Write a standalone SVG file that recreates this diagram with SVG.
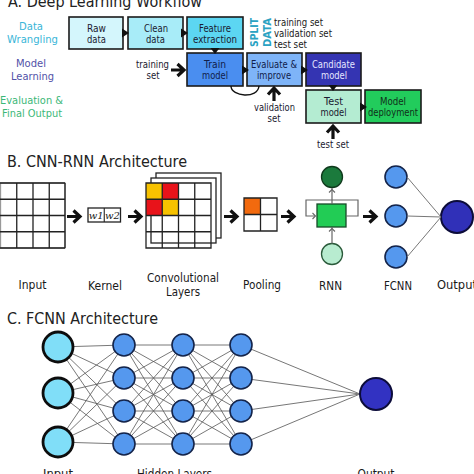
<svg xmlns="http://www.w3.org/2000/svg" xmlns:xlink="http://www.w3.org/1999/xlink" width="474" height="474" viewBox="0 0 474 474">
<style>
text{font-family:"DejaVu Sans","Liberation Sans",sans-serif;fill:#1a1a1a}
.t{font-size:16px;fill:#222}
.lab{font-size:11.5px;text-anchor:middle}
.row{font-size:10.8px;text-anchor:middle}
.bx{font-size:10.5px;text-anchor:middle;fill:#1a1a30}
.lg{font-size:10px}
.box{stroke:#1b1b1b;stroke-width:1.6}
.grid{fill:none;stroke:#222;stroke-width:1.3}
.cell{stroke:#222;stroke-width:1.3}
.thin{fill:none;stroke:#666;stroke-width:1.2}
.edge{stroke:#555;stroke-width:0.8}
.edgeB{stroke:#777;stroke-width:1}
.blue{fill:#5598ee;stroke:#14244a;stroke-width:1.6}
.tri{fill:#111}
</style>
<defs>
<path id="thk" d="M0,0 H12.5 M6.5,-6 L13,0 L6.5,6" fill="none" stroke="#111" stroke-width="3.2"/>
<path id="chev" d="M-3,3 L0,0 L3,3" fill="none" stroke="#666" stroke-width="1.1"/>
</defs>

<!-- Section A -->
<g id="titleA"><text class="t" x="8" y="7" textLength="194" lengthAdjust="spacingAndGlyphs">A. Deep Learning Workflow</text></g>
<g id="rowlabels">
<text class="row" x="31" y="30" style="fill:#3ab6d8" textLength="24" lengthAdjust="spacingAndGlyphs">Data</text>
<text class="row" x="32.5" y="42.5" style="fill:#3ab6d8" textLength="51" lengthAdjust="spacingAndGlyphs">Wrangling</text>
<text class="row" x="31" y="67" style="fill:#5252a8" textLength="30" lengthAdjust="spacingAndGlyphs">Model</text>
<text class="row" x="32.5" y="79.5" style="fill:#5252a8" textLength="43" lengthAdjust="spacingAndGlyphs">Learning</text>
<text class="row" x="31.5" y="104" style="fill:#3cb878" textLength="63" lengthAdjust="spacingAndGlyphs">Evaluation &amp;</text>
<text class="row" x="32" y="116.5" style="fill:#3cb878" textLength="60" lengthAdjust="spacingAndGlyphs">Final Output</text>
</g>

<g id="raw"><rect class="box" x="69" y="17" width="54" height="32" fill="#d4f6fc"/>
<text class="bx" x="96.5" y="32" textLength="19" lengthAdjust="spacingAndGlyphs">Raw</text><text class="bx" x="96.5" y="43" textLength="19" lengthAdjust="spacingAndGlyphs">data</text></g>
<g id="clean"><rect class="box" x="128" y="17" width="55" height="32" fill="#a8ecf8"/>
<text class="bx" x="156" y="32" textLength="24" lengthAdjust="spacingAndGlyphs">Clean</text><text class="bx" x="155.5" y="43" textLength="19" lengthAdjust="spacingAndGlyphs">data</text></g>
<g id="feature"><rect class="box" x="187" y="17" width="56" height="32" fill="#5cd6f2"/>
<text class="bx" x="215" y="32" textLength="32" lengthAdjust="spacingAndGlyphs">Feature</text><text class="bx" x="215" y="43" textLength="44" lengthAdjust="spacingAndGlyphs">extraction</text></g>
<g id="train"><rect class="box" x="187" y="53" width="56" height="33" fill="#4a8ef0"/>
<text class="bx" x="215" y="68" style="fill:#10204a" textLength="22" lengthAdjust="spacingAndGlyphs">Train</text><text class="bx" x="215" y="79" style="fill:#10204a" textLength="26" lengthAdjust="spacingAndGlyphs">model</text></g>
<g id="evaluate"><rect class="box" x="247" y="53" width="55" height="33" fill="#7eb4f8"/>
<text class="bx" x="274" y="68" style="fill:#10204a" textLength="46" lengthAdjust="spacingAndGlyphs">Evaluate &amp;</text><text class="bx" x="274" y="79" style="fill:#10204a" textLength="34" lengthAdjust="spacingAndGlyphs">improve</text></g>
<g id="candidate"><rect class="box" x="306" y="53" width="55" height="33" fill="#3434b2"/>
<text class="bx" x="333.5" y="68" style="fill:#e4e6ff" textLength="43" lengthAdjust="spacingAndGlyphs">Candidate</text><text class="bx" x="334" y="79" style="fill:#e4e6ff" textLength="26" lengthAdjust="spacingAndGlyphs">model</text></g>
<g id="test"><rect class="box" x="306" y="90" width="55" height="33" fill="#b4ecd2"/>
<text class="bx" x="333.5" y="105" textLength="19" lengthAdjust="spacingAndGlyphs">Test</text><text class="bx" x="333.5" y="116" textLength="26" lengthAdjust="spacingAndGlyphs">model</text></g>
<g id="deploy"><rect class="box" x="365" y="90" width="56" height="33" fill="#22cc5c"/>
<text class="bx" x="393" y="105" style="fill:#10301a" textLength="26" lengthAdjust="spacingAndGlyphs">Model</text><text class="bx" x="393" y="116" style="fill:#10301a" textLength="50" lengthAdjust="spacingAndGlyphs">deployment</text></g>

<g id="splitdata">
<text x="258" y="47" transform="rotate(-90 258 47)" style="font-size:11px;font-weight:bold;fill:#2aa2c2" textLength="29" lengthAdjust="spacingAndGlyphs">SPLIT</text>
<text x="271" y="47" transform="rotate(-90 271 47)" style="font-size:11px;font-weight:bold;fill:#2aa2c2" textLength="29" lengthAdjust="spacingAndGlyphs">DATA</text>
<text class="lg" x="274" y="26" textLength="49" lengthAdjust="spacingAndGlyphs">training set</text>
<text class="lg" x="274" y="37" textLength="58" lengthAdjust="spacingAndGlyphs">validation set</text>
<text class="lg" x="274" y="47.5" textLength="33" lengthAdjust="spacingAndGlyphs">test set</text>
</g>
<g id="setlabels">
<text class="bx" x="152.5" y="68" textLength="33" lengthAdjust="spacingAndGlyphs">training</text>
<text class="bx" x="153" y="79" textLength="13" lengthAdjust="spacingAndGlyphs">set</text>
<text class="bx" x="274.5" y="110.5" textLength="41" lengthAdjust="spacingAndGlyphs">validation</text>
<text class="bx" x="274" y="121.5" textLength="13" lengthAdjust="spacingAndGlyphs">set</text>
<text class="bx" x="333" y="148" textLength="32" lengthAdjust="spacingAndGlyphs">test set</text>
</g>

<g id="connectorsA">
<polygon class="tri" points="122,28.5 129,33 122,37.5"/>
<polygon class="tri" points="181,28.5 188,33 181,37.5"/>
<polygon class="tri" points="210.5,48 215,54 219.5,48"/>
<polygon class="tri" points="242,65.5 249,70 242,74.5"/>
<polygon class="tri" points="301,65.5 308,70 301,74.5"/>
<polygon class="tri" points="328.5,85 333,91 337.5,85"/>
<polygon class="tri" points="360,102.5 367,107 360,111.5"/>
<path d="M231,86 C231,97 258,99 259,86" fill="none" stroke="#111" stroke-width="1.4"/>
<use xlink:href="#thk" href="#thk" transform="translate(171,70)"/>
<use xlink:href="#thk" href="#thk" transform="translate(274,101) rotate(-90)"/>
<use xlink:href="#thk" href="#thk" transform="translate(333,139) rotate(-90)"/>
</g>

<!-- Section B -->
<g id="titleB"><text class="t" x="7" y="167" textLength="180" lengthAdjust="spacingAndGlyphs">B. CNN-RNN Architecture</text></g>

<g id="inputgrid">
<rect x="0.5" y="183" width="64.5" height="65" fill="#fff" stroke="#999" stroke-width="1.3"/>
<path class="grid" d="M16.75,183V248M33,183V248M49.25,183V248M65,183V248M0,183H65M0,199.25H65M0,215.5H65M0,231.75H65M0,248H65"/>
</g>
<g id="kernel">
<rect class="cell" x="88" y="208" width="32.5" height="14" fill="#fff" stroke-width="1.1"/>
<line x1="104.25" y1="208" x2="104.25" y2="222" stroke="#222" stroke-width="1.1"/>
<text x="96.2" y="219" style="font-family:'DejaVu Serif','Liberation Serif',serif;font-style:italic;font-size:10px;text-anchor:middle">w1</text>
<text x="112.4" y="219" style="font-family:'DejaVu Serif','Liberation Serif',serif;font-style:italic;font-size:10px;text-anchor:middle">w2</text>
</g>
<g id="conv">
<rect class="cell" x="156" y="173" width="65" height="65" fill="#fff"/>
<rect class="cell" x="151" y="178" width="65" height="65" fill="#fff"/>
<rect x="146" y="183" width="16.25" height="16.25" fill="#f7c200"/>
<rect x="162.25" y="183" width="16.25" height="16.25" fill="#e8131a"/>
<rect x="146" y="199.25" width="16.25" height="16.25" fill="#e8131a"/>
<rect x="162.25" y="199.25" width="16.25" height="16.25" fill="#f7c200"/>
<path class="grid" d="M146,183H211V248H146Z M162.25,183V248M178.5,183V248M194.75,183V248M146,199.25H211M146,215.5H211M146,231.75H211"/>
</g>
<g id="pooling">
<rect x="244" y="198" width="16.5" height="16.5" fill="#f26a0e"/>
<path class="grid" d="M244,198H277V231H244Z M260.5,198V231M244,214.5H277"/>
</g>
<g id="rnn">
<circle cx="332" cy="177" r="10.5" fill="#1b7a3c" stroke="#0f3a1c" stroke-width="1.3"/>
<rect x="317" y="204" width="29" height="23" fill="#22cc55" stroke="#184a28" stroke-width="1.3"/>
<circle cx="332" cy="254" r="10.5" fill="#b8ecd0" stroke="#2a5a3a" stroke-width="1.3"/>
</g>
<g id="fcnnB">
<circle class="blue" cx="396" cy="177" r="11"/>
<circle class="blue" cx="396" cy="216" r="11"/>
<circle class="blue" cx="396" cy="257" r="11"/>
</g>
<g id="outputB"><circle cx="457" cy="217" r="16" fill="#3030b8" stroke="#0c0c3a" stroke-width="2"/></g>

<g id="connectorsB">
<use xlink:href="#thk" href="#thk" transform="translate(67,216.5)"/>
<use xlink:href="#thk" href="#thk" transform="translate(128,216.5)"/>
<use xlink:href="#thk" href="#thk" transform="translate(224,216.5)"/>
<use xlink:href="#thk" href="#thk" transform="translate(281,216.5)"/>
<use xlink:href="#thk" href="#thk" transform="translate(363,216.5)"/>
<path class="thin" d="M332,204V188"/><use xlink:href="#chev" href="#chev" transform="translate(332,189.5)"/>
<path class="thin" d="M332,243.5V227"/><use xlink:href="#chev" href="#chev" transform="translate(332,228.5)"/>
<path class="thin" d="M346,216H358V200H306V216H315"/><use xlink:href="#chev" href="#chev" transform="translate(315.5,216) rotate(90)"/>
<line class="edgeB" x1="407" y1="177" x2="441" y2="217"/>
<line class="edgeB" x1="407" y1="216" x2="441" y2="217"/>
<line class="edgeB" x1="407" y1="257" x2="441" y2="217"/>
</g>
<g id="labelsB">
<text class="lab" x="32.5" y="289" textLength="28" lengthAdjust="spacingAndGlyphs">Input</text>
<text class="lab" x="105" y="290" textLength="34" lengthAdjust="spacingAndGlyphs">Kernel</text>
<text class="lab" x="183" y="282" textLength="72" lengthAdjust="spacingAndGlyphs">Convolutional</text>
<text class="lab" x="183" y="296" textLength="34" lengthAdjust="spacingAndGlyphs">Layers</text>
<text class="lab" x="262" y="289" textLength="38" lengthAdjust="spacingAndGlyphs">Pooling</text>
<text class="lab" x="330.5" y="290" textLength="23" lengthAdjust="spacingAndGlyphs">RNN</text>
<text class="lab" x="398" y="290" textLength="28" lengthAdjust="spacingAndGlyphs">FCNN</text>
<text class="lab" x="457" y="289" textLength="40" lengthAdjust="spacingAndGlyphs">Output</text>
</g>

<!-- Section C -->
<g id="titleC"><text class="t" x="7" y="324" textLength="151" lengthAdjust="spacingAndGlyphs">C. FCNN Architecture</text></g>
<g id="connectorsC">
<g class="edge">
<line x1="58" y1="347" x2="124" y2="345"/><line x1="58" y1="347" x2="124" y2="378"/><line x1="58" y1="347" x2="124" y2="411"/><line x1="58" y1="347" x2="124" y2="444"/>
<line x1="58" y1="393" x2="124" y2="345"/><line x1="58" y1="393" x2="124" y2="378"/><line x1="58" y1="393" x2="124" y2="411"/><line x1="58" y1="393" x2="124" y2="444"/>
<line x1="58" y1="442" x2="124" y2="345"/><line x1="58" y1="442" x2="124" y2="378"/><line x1="58" y1="442" x2="124" y2="411"/><line x1="58" y1="442" x2="124" y2="444"/>
<line x1="124" y1="345" x2="183" y2="345"/><line x1="124" y1="345" x2="183" y2="378"/><line x1="124" y1="345" x2="183" y2="411"/><line x1="124" y1="345" x2="183" y2="444"/>
<line x1="124" y1="378" x2="183" y2="345"/><line x1="124" y1="378" x2="183" y2="378"/><line x1="124" y1="378" x2="183" y2="411"/><line x1="124" y1="378" x2="183" y2="444"/>
<line x1="124" y1="411" x2="183" y2="345"/><line x1="124" y1="411" x2="183" y2="378"/><line x1="124" y1="411" x2="183" y2="411"/><line x1="124" y1="411" x2="183" y2="444"/>
<line x1="124" y1="444" x2="183" y2="345"/><line x1="124" y1="444" x2="183" y2="378"/><line x1="124" y1="444" x2="183" y2="411"/><line x1="124" y1="444" x2="183" y2="444"/>
<line x1="183" y1="345" x2="241" y2="345"/><line x1="183" y1="345" x2="241" y2="378"/><line x1="183" y1="345" x2="241" y2="411"/><line x1="183" y1="345" x2="241" y2="444"/>
<line x1="183" y1="378" x2="241" y2="345"/><line x1="183" y1="378" x2="241" y2="378"/><line x1="183" y1="378" x2="241" y2="411"/><line x1="183" y1="378" x2="241" y2="444"/>
<line x1="183" y1="411" x2="241" y2="345"/><line x1="183" y1="411" x2="241" y2="378"/><line x1="183" y1="411" x2="241" y2="411"/><line x1="183" y1="411" x2="241" y2="444"/>
<line x1="183" y1="444" x2="241" y2="345"/><line x1="183" y1="444" x2="241" y2="378"/><line x1="183" y1="444" x2="241" y2="411"/><line x1="183" y1="444" x2="241" y2="444"/>
</g>
<g class="edgeB">
<line x1="241" y1="345" x2="360" y2="394"/><line x1="241" y1="378" x2="360" y2="394"/><line x1="241" y1="411" x2="360" y2="394"/><line x1="241" y1="444" x2="360" y2="394"/>
</g>
</g>
<g id="inputC">
<circle cx="58" cy="347" r="15" fill="#80def8" stroke="#0d0d0d" stroke-width="2.8"/>
<circle cx="58" cy="393" r="15" fill="#80def8" stroke="#0d0d0d" stroke-width="2.8"/>
<circle cx="58" cy="442" r="15" fill="#80def8" stroke="#0d0d0d" stroke-width="2.8"/>
</g>
<g id="hidden1">
<circle class="blue" cx="124" cy="345" r="11"/><circle class="blue" cx="124" cy="378" r="11"/><circle class="blue" cx="124" cy="411" r="11"/><circle class="blue" cx="124" cy="444" r="11"/>
</g>
<g id="hidden2">
<circle class="blue" cx="183" cy="345" r="11"/><circle class="blue" cx="183" cy="378" r="11"/><circle class="blue" cx="183" cy="411" r="11"/><circle class="blue" cx="183" cy="444" r="11"/>
</g>
<g id="hidden3">
<circle class="blue" cx="241" cy="345" r="11"/><circle class="blue" cx="241" cy="378" r="11"/><circle class="blue" cx="241" cy="411" r="11"/><circle class="blue" cx="241" cy="444" r="11"/>
</g>
<g id="outputC"><circle cx="376" cy="394" r="16" fill="#3232c2" stroke="#0c0c3a" stroke-width="2"/></g>
<g id="labelsC">
<text class="lab" x="58" y="478" textLength="30" lengthAdjust="spacingAndGlyphs">Input</text>
<text class="lab" x="174.5" y="478" textLength="75" lengthAdjust="spacingAndGlyphs">Hidden Layers</text>
<text class="lab" x="376" y="478" textLength="37" lengthAdjust="spacingAndGlyphs">Output</text>
</g>
</svg>
